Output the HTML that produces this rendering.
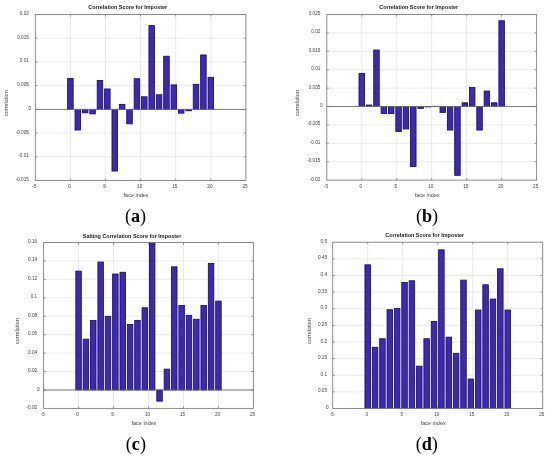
<!DOCTYPE html>
<html><head><meta charset="utf-8"><title>Correlation Score for Imposter</title>
<style>html,body{margin:0;padding:0;background:#fff;width:550px;height:456px;overflow:hidden}
svg{display:block} text{font-family:"Liberation Sans",Arial,sans-serif} text.sf{font-family:"Liberation Serif","Times New Roman",serif}</style></head>
<body><svg width="550" height="456" viewBox="0 0 550 456">
<rect width="550" height="456" fill="#fff"/>
<g id="pa">
<path d="M70.40 14.50V180.50M105.50 14.50V180.50M140.60 14.50V180.50M175.70 14.50V180.50M210.80 14.50V180.50M35.30 156.79H245.90M35.30 133.07H245.90M35.30 109.36H245.90M35.30 85.64H245.90M35.30 61.93H245.90M35.30 38.21H245.90" stroke="#e2e2e2" stroke-width="0.7" fill="none"/>
<g fill="#3e2aaf" stroke="#1a0a6e" stroke-width="0.85"><rect x="67.64" y="78.53" width="5.52" height="30.83"/><rect x="75.03" y="109.36" width="5.52" height="20.63"/><rect x="82.42" y="109.36" width="5.52" height="3.41"/><rect x="89.81" y="109.36" width="5.52" height="4.51"/><rect x="97.20" y="80.43" width="5.52" height="28.93"/><rect x="104.59" y="88.96" width="5.52" height="20.39"/><rect x="111.98" y="109.36" width="5.52" height="61.66"/><rect x="119.37" y="104.38" width="5.52" height="4.98"/><rect x="126.76" y="109.36" width="5.52" height="14.47"/><rect x="134.15" y="78.77" width="5.52" height="30.59"/><rect x="141.54" y="96.79" width="5.52" height="12.57"/><rect x="148.93" y="25.60" width="5.52" height="83.76"/><rect x="156.32" y="94.80" width="5.52" height="14.56"/><rect x="163.71" y="56.24" width="5.52" height="53.12"/><rect x="171.09" y="84.88" width="5.52" height="24.47"/><rect x="178.48" y="109.36" width="5.52" height="3.79"/><rect x="185.87" y="109.36" width="5.52" height="1.42"/><rect x="193.26" y="84.31" width="5.52" height="25.04"/><rect x="200.65" y="54.96" width="5.52" height="54.40"/><rect x="208.04" y="77.30" width="5.52" height="32.06"/></g>
<path d="M35.30 109.45H245.90" stroke="#707070" stroke-width="0.9"/>
<path d="M70.40 180.50v-2.0M70.40 14.50v2.0M105.50 180.50v-2.0M105.50 14.50v2.0M140.60 180.50v-2.0M140.60 14.50v2.0M175.70 180.50v-2.0M175.70 14.50v2.0M210.80 180.50v-2.0M210.80 14.50v2.0M35.30 156.79h2.0M245.90 156.79h-2.0M35.30 133.07h2.0M245.90 133.07h-2.0M35.30 109.36h2.0M245.90 109.36h-2.0M35.30 85.64h2.0M245.90 85.64h-2.0M35.30 61.93h2.0M245.90 61.93h-2.0M35.30 38.21h2.0M245.90 38.21h-2.0" stroke="#555" stroke-width="0.6" fill="none"/>
<rect x="35.30" y="14.50" width="210.60" height="166.00" fill="none" stroke="#808080" stroke-width="0.9"/>
<g font-size="5.2" text-anchor="end" fill="#444444"><text transform="translate(28.90 181.06) scale(0.9 1)">-0.015</text><text transform="translate(28.90 157.35) scale(0.9 1)">-0.01</text><text transform="translate(28.90 133.63) scale(0.9 1)">-0.005</text><text transform="translate(31.20 109.92) scale(0.9 1)">0</text><text transform="translate(28.90 86.20) scale(0.9 1)">0.005</text><text transform="translate(28.90 62.49) scale(0.9 1)">0.01</text><text transform="translate(28.90 38.78) scale(0.9 1)">0.015</text><text transform="translate(28.90 15.06) scale(0.9 1)">0.02</text></g>
<g font-size="5.2" text-anchor="middle" fill="#444444"><text transform="translate(34.40 187.96) scale(0.9 1)">-5</text><text transform="translate(69.50 187.96) scale(0.9 1)">0</text><text transform="translate(104.60 187.96) scale(0.9 1)">5</text><text transform="translate(139.70 187.96) scale(0.9 1)">10</text><text transform="translate(174.80 187.96) scale(0.9 1)">15</text><text transform="translate(209.90 187.96) scale(0.9 1)">20</text><text transform="translate(245.00 187.96) scale(0.9 1)">25</text></g>
<text x="127.80" y="9.25" font-size="5.45" font-weight="bold" text-anchor="middle" fill="#222">Correlation Score for Imposter</text>
<text x="136.10" y="197.07" font-size="5.5" text-anchor="middle" fill="#444444">face index</text>
<text transform="translate(7.78 103.10) rotate(-90)" font-size="5.5" text-anchor="middle" fill="#444444">correlation</text>
<text class="sf" x="135.50" y="222.48" font-size="18.2" text-anchor="middle" fill="#000">(<tspan font-weight="bold">a</tspan>)</text>
</g>
<g id="pb">
<path d="M361.77 14.50V180.10M396.73 14.50V180.10M431.70 14.50V180.10M466.67 14.50V180.10M501.63 14.50V180.10M326.80 161.70H536.60M326.80 143.30H536.60M326.80 124.90H536.60M326.80 106.50H536.60M326.80 88.10H536.60M326.80 69.70H536.60M326.80 51.30H536.60M326.80 32.90H536.60" stroke="#e2e2e2" stroke-width="0.7" fill="none"/>
<g fill="#3e2aaf" stroke="#1a0a6e" stroke-width="0.85"><rect x="359.02" y="73.38" width="5.49" height="33.12"/><rect x="366.38" y="105.03" width="5.49" height="1.47"/><rect x="373.74" y="50.01" width="5.49" height="56.49"/><rect x="381.10" y="106.50" width="5.49" height="6.99"/><rect x="388.46" y="106.50" width="5.49" height="6.99"/><rect x="395.83" y="106.50" width="5.49" height="25.02"/><rect x="403.19" y="106.50" width="5.49" height="22.45"/><rect x="410.55" y="106.50" width="5.49" height="59.98"/><rect x="417.91" y="106.50" width="5.49" height="1.84"/><rect x="425.27" y="106.50" width="5.49" height="0.37"/><rect x="432.63" y="106.32" width="5.49" height="0.30"/><rect x="439.99" y="106.50" width="5.49" height="5.89"/><rect x="447.36" y="106.50" width="5.49" height="23.55"/><rect x="454.72" y="106.50" width="5.49" height="68.82"/><rect x="462.08" y="102.82" width="5.49" height="3.68"/><rect x="469.44" y="87.36" width="5.49" height="19.14"/><rect x="476.80" y="106.50" width="5.49" height="23.55"/><rect x="484.16" y="91.04" width="5.49" height="15.46"/><rect x="491.52" y="102.82" width="5.49" height="3.68"/><rect x="498.89" y="20.76" width="5.49" height="85.74"/></g>
<path d="M326.80 106.50H536.60" stroke="#707070" stroke-width="0.9"/>
<path d="M361.77 180.10v-2.0M361.77 14.50v2.0M396.73 180.10v-2.0M396.73 14.50v2.0M431.70 180.10v-2.0M431.70 14.50v2.0M466.67 180.10v-2.0M466.67 14.50v2.0M501.63 180.10v-2.0M501.63 14.50v2.0M326.80 161.70h2.0M536.60 161.70h-2.0M326.80 143.30h2.0M536.60 143.30h-2.0M326.80 124.90h2.0M536.60 124.90h-2.0M326.80 106.50h2.0M536.60 106.50h-2.0M326.80 88.10h2.0M536.60 88.10h-2.0M326.80 69.70h2.0M536.60 69.70h-2.0M326.80 51.30h2.0M536.60 51.30h-2.0M326.80 32.90h2.0M536.60 32.90h-2.0" stroke="#555" stroke-width="0.6" fill="none"/>
<rect x="326.80" y="14.50" width="209.80" height="165.60" fill="none" stroke="#808080" stroke-width="0.9"/>
<g font-size="5.2" text-anchor="end" fill="#444444"><text transform="translate(320.40 180.66) scale(0.9 1)">-0.02</text><text transform="translate(320.40 162.26) scale(0.9 1)">-0.015</text><text transform="translate(320.40 143.86) scale(0.9 1)">-0.01</text><text transform="translate(320.40 125.46) scale(0.9 1)">-0.005</text><text transform="translate(322.70 107.06) scale(0.9 1)">0</text><text transform="translate(320.40 88.66) scale(0.9 1)">0.005</text><text transform="translate(320.40 70.26) scale(0.9 1)">0.01</text><text transform="translate(320.40 51.86) scale(0.9 1)">0.015</text><text transform="translate(320.40 33.46) scale(0.9 1)">0.02</text><text transform="translate(320.40 15.06) scale(0.9 1)">0.025</text></g>
<g font-size="5.2" text-anchor="middle" fill="#444444"><text transform="translate(325.90 187.96) scale(0.9 1)">-5</text><text transform="translate(360.87 187.96) scale(0.9 1)">0</text><text transform="translate(395.83 187.96) scale(0.9 1)">5</text><text transform="translate(430.80 187.96) scale(0.9 1)">10</text><text transform="translate(465.77 187.96) scale(0.9 1)">15</text><text transform="translate(500.73 187.96) scale(0.9 1)">20</text><text transform="translate(535.70 187.96) scale(0.9 1)">25</text></g>
<text x="418.80" y="9.25" font-size="5.45" font-weight="bold" text-anchor="middle" fill="#222">Correlation Score for Imposter</text>
<text x="427.20" y="196.67" font-size="5.5" text-anchor="middle" fill="#444444">face index</text>
<text transform="translate(298.98 102.90) rotate(-90)" font-size="5.5" text-anchor="middle" fill="#444444">correlation</text>
<text class="sf" x="427.00" y="222.48" font-size="18.2" text-anchor="middle" fill="#000">(<tspan font-weight="bold">b</tspan>)</text>
</g>
<g id="pc">
<path d="M78.57 242.50V408.40M113.53 242.50V408.40M148.50 242.50V408.40M183.47 242.50V408.40M218.43 242.50V408.40M43.60 389.97H253.40M43.60 371.53H253.40M43.60 353.10H253.40M43.60 334.67H253.40M43.60 316.23H253.40M43.60 297.80H253.40M43.60 279.37H253.40M43.60 260.93H253.40" stroke="#e2e2e2" stroke-width="0.7" fill="none"/>
<g fill="#3e2aaf" stroke="#1a0a6e" stroke-width="0.85"><rect x="75.82" y="271.16" width="5.49" height="118.80"/><rect x="83.18" y="339.18" width="5.49" height="50.78"/><rect x="90.54" y="320.38" width="5.49" height="69.59"/><rect x="97.90" y="262.04" width="5.49" height="127.93"/><rect x="105.26" y="316.33" width="5.49" height="73.64"/><rect x="112.63" y="274.02" width="5.49" height="115.95"/><rect x="119.99" y="272.27" width="5.49" height="117.70"/><rect x="127.35" y="324.44" width="5.49" height="65.53"/><rect x="134.71" y="320.38" width="5.49" height="69.59"/><rect x="142.07" y="307.75" width="5.49" height="82.21"/><rect x="149.43" y="242.50" width="5.49" height="147.47"/><rect x="156.79" y="389.97" width="5.49" height="11.15"/><rect x="164.16" y="369.14" width="5.49" height="20.83"/><rect x="171.52" y="266.83" width="5.49" height="123.13"/><rect x="178.88" y="305.54" width="5.49" height="84.42"/><rect x="186.24" y="315.31" width="5.49" height="74.66"/><rect x="193.60" y="319.27" width="5.49" height="70.69"/><rect x="200.96" y="305.54" width="5.49" height="84.42"/><rect x="208.32" y="263.51" width="5.49" height="126.45"/><rect x="215.69" y="301.12" width="5.49" height="88.85"/></g>
<path d="M43.60 390.00H253.40" stroke="#707070" stroke-width="0.9"/>
<path d="M78.57 408.40v-2.0M78.57 242.50v2.0M113.53 408.40v-2.0M113.53 242.50v2.0M148.50 408.40v-2.0M148.50 242.50v2.0M183.47 408.40v-2.0M183.47 242.50v2.0M218.43 408.40v-2.0M218.43 242.50v2.0M43.60 389.97h2.0M253.40 389.97h-2.0M43.60 371.53h2.0M253.40 371.53h-2.0M43.60 353.10h2.0M253.40 353.10h-2.0M43.60 334.67h2.0M253.40 334.67h-2.0M43.60 316.23h2.0M253.40 316.23h-2.0M43.60 297.80h2.0M253.40 297.80h-2.0M43.60 279.37h2.0M253.40 279.37h-2.0M43.60 260.93h2.0M253.40 260.93h-2.0" stroke="#555" stroke-width="0.6" fill="none"/>
<rect x="43.60" y="242.50" width="209.80" height="165.90" fill="none" stroke="#808080" stroke-width="0.9"/>
<g font-size="5.2" text-anchor="end" fill="#444444"><text transform="translate(37.20 408.96) scale(0.9 1)">-0.02</text><text transform="translate(39.50 390.53) scale(0.9 1)">0</text><text transform="translate(37.20 372.09) scale(0.9 1)">0.02</text><text transform="translate(37.20 353.66) scale(0.9 1)">0.04</text><text transform="translate(37.20 335.23) scale(0.9 1)">0.06</text><text transform="translate(37.20 316.79) scale(0.9 1)">0.08</text><text transform="translate(37.20 298.36) scale(0.9 1)">0.1</text><text transform="translate(37.20 279.93) scale(0.9 1)">0.12</text><text transform="translate(37.20 261.49) scale(0.9 1)">0.14</text><text transform="translate(37.20 243.06) scale(0.9 1)">0.16</text></g>
<g font-size="5.2" text-anchor="middle" fill="#444444"><text transform="translate(42.70 415.56) scale(0.9 1)">-5</text><text transform="translate(77.67 415.56) scale(0.9 1)">0</text><text transform="translate(112.63 415.56) scale(0.9 1)">5</text><text transform="translate(147.60 415.56) scale(0.9 1)">10</text><text transform="translate(182.57 415.56) scale(0.9 1)">15</text><text transform="translate(217.53 415.56) scale(0.9 1)">20</text><text transform="translate(252.50 415.56) scale(0.9 1)">25</text></g>
<text x="132.00" y="237.55" font-size="5.45" font-weight="bold" text-anchor="middle" fill="#222">Salting Correlation Score for Imposter</text>
<text x="144.00" y="424.97" font-size="5.5" text-anchor="middle" fill="#444444">face index</text>
<text transform="translate(19.38 331.05) rotate(-90)" font-size="5.5" text-anchor="middle" fill="#444444">correlation</text>
<text class="sf" x="135.90" y="450.28" font-size="18.2" text-anchor="middle" fill="#000">(<tspan font-weight="bold">c</tspan>)</text>
</g>
<g id="pd">
<path d="M367.70 242.20V408.50M402.70 242.20V408.50M437.70 242.20V408.50M472.70 242.20V408.50M507.70 242.20V408.50M332.70 391.87H542.70M332.70 375.24H542.70M332.70 358.61H542.70M332.70 341.98H542.70M332.70 325.35H542.70M332.70 308.72H542.70M332.70 292.09H542.70M332.70 275.46H542.70M332.70 258.83H542.70" stroke="#e2e2e2" stroke-width="0.7" fill="none"/>
<g fill="#3e2aaf" stroke="#1a0a6e" stroke-width="0.85"><rect x="364.95" y="264.82" width="5.50" height="143.68"/><rect x="372.32" y="347.30" width="5.50" height="61.20"/><rect x="379.69" y="338.75" width="5.50" height="69.75"/><rect x="387.06" y="309.72" width="5.50" height="98.78"/><rect x="394.42" y="308.39" width="5.50" height="100.11"/><rect x="401.79" y="282.44" width="5.50" height="126.06"/><rect x="409.16" y="280.78" width="5.50" height="127.72"/><rect x="416.53" y="366.19" width="5.50" height="42.31"/><rect x="423.90" y="338.75" width="5.50" height="69.75"/><rect x="431.27" y="321.53" width="5.50" height="86.97"/><rect x="438.63" y="249.85" width="5.50" height="158.65"/><rect x="446.00" y="337.16" width="5.50" height="71.34"/><rect x="453.37" y="353.29" width="5.50" height="55.21"/><rect x="460.74" y="280.12" width="5.50" height="128.38"/><rect x="468.11" y="379.06" width="5.50" height="29.44"/><rect x="475.48" y="310.05" width="5.50" height="98.45"/><rect x="482.84" y="284.77" width="5.50" height="123.73"/><rect x="490.21" y="299.07" width="5.50" height="109.43"/><rect x="497.58" y="268.81" width="5.50" height="139.69"/><rect x="504.95" y="310.05" width="5.50" height="98.45"/></g>
<path d="M367.70 408.50v-2.0M367.70 242.20v2.0M402.70 408.50v-2.0M402.70 242.20v2.0M437.70 408.50v-2.0M437.70 242.20v2.0M472.70 408.50v-2.0M472.70 242.20v2.0M507.70 408.50v-2.0M507.70 242.20v2.0M332.70 391.87h2.0M542.70 391.87h-2.0M332.70 375.24h2.0M542.70 375.24h-2.0M332.70 358.61h2.0M542.70 358.61h-2.0M332.70 341.98h2.0M542.70 341.98h-2.0M332.70 325.35h2.0M542.70 325.35h-2.0M332.70 308.72h2.0M542.70 308.72h-2.0M332.70 292.09h2.0M542.70 292.09h-2.0M332.70 275.46h2.0M542.70 275.46h-2.0M332.70 258.83h2.0M542.70 258.83h-2.0" stroke="#555" stroke-width="0.6" fill="none"/>
<rect x="332.70" y="242.20" width="210.00" height="166.30" fill="none" stroke="#808080" stroke-width="0.9"/>
<g font-size="5.2" text-anchor="end" fill="#444444"><text transform="translate(328.60 409.06) scale(0.9 1)">0</text><text transform="translate(327.00 392.43) scale(0.9 1)">0.05</text><text transform="translate(327.00 375.80) scale(0.9 1)">0.1</text><text transform="translate(327.00 359.17) scale(0.9 1)">0.15</text><text transform="translate(327.00 342.54) scale(0.9 1)">0.2</text><text transform="translate(327.00 325.91) scale(0.9 1)">0.25</text><text transform="translate(327.00 309.28) scale(0.9 1)">0.3</text><text transform="translate(327.00 292.65) scale(0.9 1)">0.35</text><text transform="translate(327.00 276.02) scale(0.9 1)">0.4</text><text transform="translate(327.00 259.39) scale(0.9 1)">0.45</text><text transform="translate(327.00 242.76) scale(0.9 1)">0.5</text></g>
<g font-size="5.2" text-anchor="middle" fill="#444444"><text transform="translate(331.80 415.56) scale(0.9 1)">-5</text><text transform="translate(366.80 415.56) scale(0.9 1)">0</text><text transform="translate(401.80 415.56) scale(0.9 1)">5</text><text transform="translate(436.80 415.56) scale(0.9 1)">10</text><text transform="translate(471.80 415.56) scale(0.9 1)">15</text><text transform="translate(506.80 415.56) scale(0.9 1)">20</text><text transform="translate(541.80 415.56) scale(0.9 1)">25</text></g>
<text x="424.80" y="236.85" font-size="5.45" font-weight="bold" text-anchor="middle" fill="#222">Correlation Score for Imposter</text>
<text x="433.20" y="425.07" font-size="5.5" text-anchor="middle" fill="#444444">face index</text>
<text transform="translate(310.77 330.95) rotate(-90)" font-size="5.5" text-anchor="middle" fill="#444444">correlation</text>
<text class="sf" x="426.80" y="450.18" font-size="18.2" text-anchor="middle" fill="#000">(<tspan font-weight="bold">d</tspan>)</text>
</g>
</svg></body></html>
